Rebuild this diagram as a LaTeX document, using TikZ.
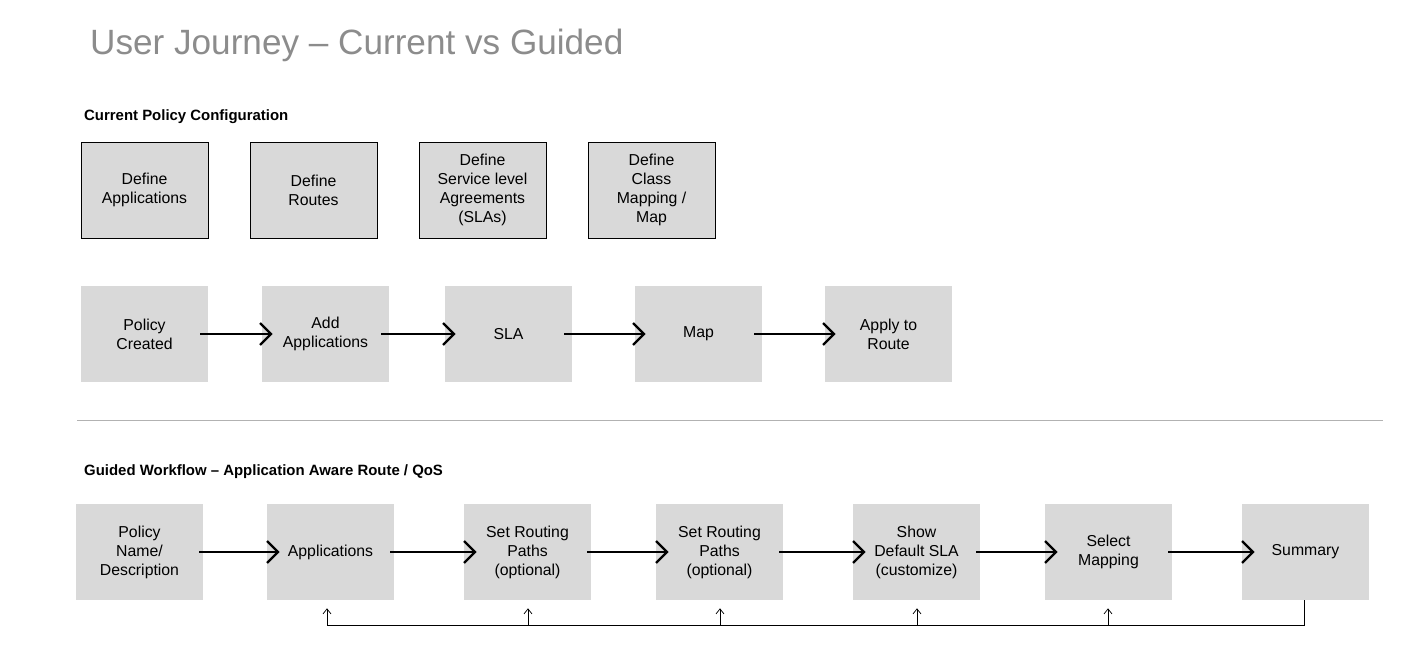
\documentclass[tikz,border=0pt]{standalone}
\usepackage{fontspec}
\setmainfont{Liberation Sans}
\usetikzlibrary{arrows.meta}
\definecolor{boxGray}{RGB}{217,217,217}
\definecolor{titleGray}{RGB}{140,140,140}
\tikzset{
  stage/.style={fill=boxGray, minimum width=2.54cm, minimum height=1.92cm, align=center, inner sep=1pt, font=\fontsize{9}{10.8}\selectfont},
  defbox/.style={stage, draw=black, thin},
  flow/.style={-{Straight Barb[length=2.2mm,width=4.4mm]}, line width=1.3pt},
  back/.style={-{Straight Barb[length=1mm,width=1.6mm]}, thin, shorten >=0.16cm}
}
\begin{document}
\begin{tikzpicture}[x=0.02cm,y=-0.02cm]
\useasboundingbox (0,0) rectangle (1405,646);
\node[anchor=west, text=titleGray, font=\fontsize{20}{24}\selectfont] (title) at (84,45) {User Journey – Current vs Guided};
\node[anchor=west, font=\bfseries\fontsize{8.5}{10}\selectfont] (cur) at (78,117) {Current Policy Configuration};
\node[anchor=west, font=\bfseries\fontsize{8.5}{10}\selectfont] (gui) at (78,472) {Guided Workflow – Application Aware Route / QoS};
% definitions
\node[defbox] (d1) at (144.5,190) {Define\\Applications};
\node[defbox] (d2) at (313.5,190) {Define\\Routes};
\node[defbox] (d3) at (482.5,190) {Define\\Service level\\Agreements\\(SLAs)};
\node[defbox] (d4) at (651.5,190) {Define\\Class\\Mapping /\\Map};
% current flow
\node[stage] (c1) at (144.5,334) {Policy\\Created};
\node[stage] (c2) at (325.5,334) {Add\\Applications};
\node[stage] (c3) at (508.5,334) {SLA};
\node[stage] (c4) at (698.5,334) {Map};
\node[stage] (c5) at (888.5,334) {Apply to\\Route};
\foreach \a/\b in {c1/c2,c2/c3,c3/c4,c4/c5}
  \draw[flow] ([xshift=-0.16cm]\a.east) -- ([xshift=0.22cm]\b.west);
\draw[gray!60] (77,420) coordinate (s1) -- (1383,420) coordinate (s2);
% guided flow
\node[stage] (g1) at (139.5,552) {Policy\\Name/\\Description};
\node[stage] (g2) at (330.5,552) {Applications};
\node[stage] (g3) at (527.5,552) {Set Routing\\Paths\\(optional)};
\node[stage] (g4) at (719.5,552) {Set Routing\\Paths\\(optional)};
\node[stage] (g5) at (916.5,552) {Show\\Default SLA\\(customize)};
\node[stage] (g6) at (1108.5,552) {Select\\Mapping};
\node[stage] (g7) at (1305.5,552) {Summary};
\foreach \a/\b in {g1/g2,g2/g3,g3/g4,g4/g5,g5/g6,g6/g7}
  \draw[flow] ([xshift=-0.08cm]\a.east) -- ([xshift=0.26cm]\b.west);
% back links
\coordinate (bend) at (1304,625);
\draw[thin] (bend |- g7.south) -- (bend) -- (327,625);
\foreach \n/\x in {g2/327,g3/528,g4/720,g5/917,g6/1108}
  \draw[back] (\x,625) -- (\x,625 |- \n.south);
\end{tikzpicture}
\end{document}
